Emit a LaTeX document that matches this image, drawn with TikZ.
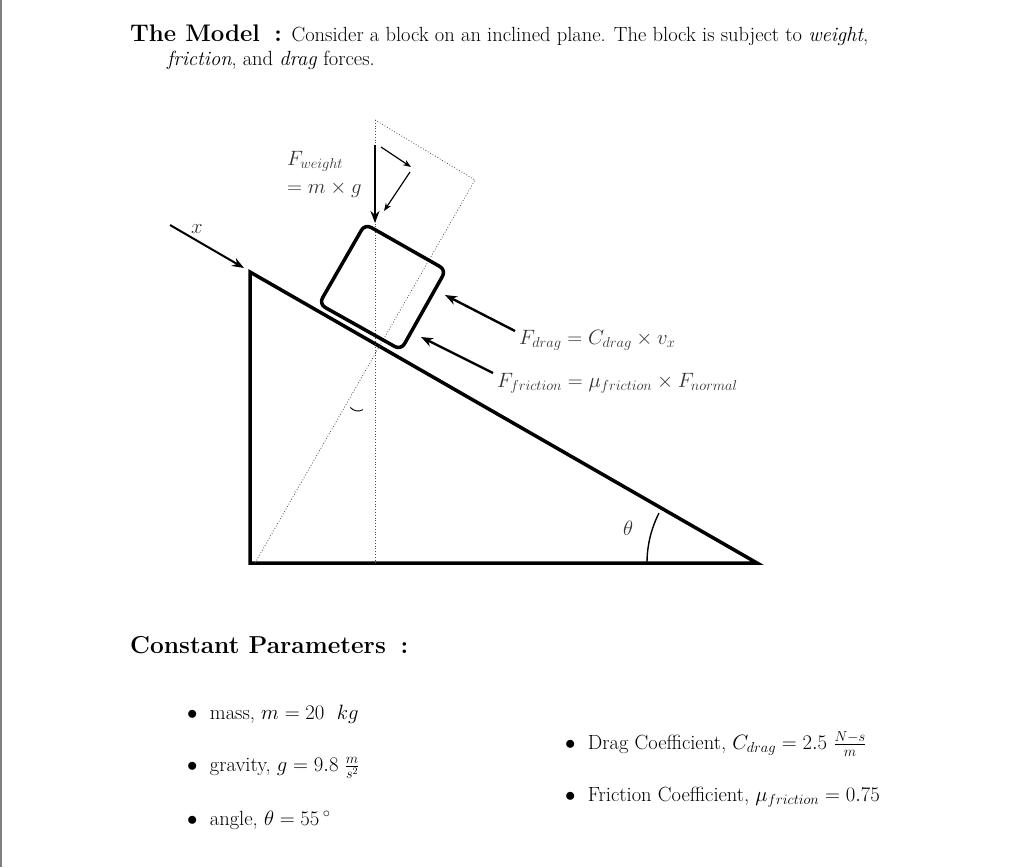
\documentclass[tikz,border=0pt]{standalone}
\usepackage{amsmath}
\usetikzlibrary{arrows.meta}
\begin{document}
\begin{tikzpicture}[x=1pt,y=-1pt,
  txt/.style={font=\fontsize{20.5}{24}\selectfont,anchor=west,inner sep=0pt},
  lbl/.style={font=\fontsize{21}{24}\selectfont,text=black!80,anchor=west,inner sep=0pt},
  thick line/.style={line width=3.5pt},
  dots/.style={dotted,line width=0.8pt,black!70},
  force/.style={line width=2.4pt,-{Stealth[length=12pt,width=9pt]}}]
\useasboundingbox (0,0) rectangle (1024,867);
\draw[black!50,line width=1.5pt] (0.75,0) -- (0.75,867);
% header
\node[txt] (title) at (130,35) {\fontsize{24}{26}\selectfont\textbf{The Model}\ \ \textbf{:} \fontsize{20.5}{24}\selectfont Consider a block on an inclined plane. The block is subject to \textit{weight},};
\node[txt] (title2) at (167,60) {\textit{friction}, and \textit{drag} forces.};
% geometry
\coordinate (A) at (250,272);
\coordinate (B) at (250,563);
\coordinate (C) at (757,563);
\draw[thick line,line join=miter] (A) -- (B) -- (C) -- cycle;
\coordinate (V0) at (375,120);
\coordinate (V1) at (375,563);
\coordinate (R1) at (475,180);
\coordinate (R2) at (255,563);
\draw[dots] (V0) -- (V1);
\draw[dots] (V0) -- (R1) -- (R2);
% block
\draw[line width=3.5pt,rounded corners=7pt] (365,224) -- (446,270) -- (401,350) -- (319,304) -- cycle;
% weight
\coordinate (W0) at (375,145);
\coordinate (W1) at (375,223);
\draw[force] (W0) -- (W1);
\coordinate (c1) at (381,147); \coordinate (c2) at (411,167);
\draw[line width=1.2pt,-{Stealth[length=8pt,width=6pt]}] (c1) -- (c2);
\coordinate (c3) at (410,172); \coordinate (c4) at (384,211);
\draw[line width=1.2pt,-{Stealth[length=8pt,width=6pt]}] (c3) -- (c4);
\node[lbl] (fw) at (287,161) {$F_{weight}$};
\node[lbl] (fw2) at (287,189) {$= m \times g$};
% angle arc near vertical
\draw[line width=0.9pt] (358,401) ++(140:10) arc[start angle=140,end angle=60,radius=10];
% x
\coordinate (X0) at (170,225); \coordinate (X1) at (244,268);
\draw[force,line width=2pt] (X0) -- (X1);
\node[lbl] (xl) at (191,229) {$x$};
% drag and friction
\coordinate (D0) at (515,331); \coordinate (D1) at (445,295);
\draw[force] (D0) -- (D1);
\coordinate (F0) at (493,373); \coordinate (F1) at (421,337);
\draw[force] (F0) -- (F1);
\node[lbl] (fd) at (519,340) {$F_{drag} = C_{drag} \times v_x$};
\node[lbl] (ff) at (497,383) {$F_{friction} = \mu_{friction} \times F_{normal}$};
% theta
\draw[line width=1.4pt] (647,563) arc[start angle=180,end angle=207,radius=110];
\node[lbl] (th) at (623,528) {$\theta$};
% parameters
\node[txt] (cp) at (130,645) {\fontsize{24.5}{26}\selectfont\textbf{Constant Parameters}\ \ \textbf{:}};
\node[txt] (b1) at (187,714) {$\bullet$\ \ mass, $m = 20\ \ kg$};
\node[txt] (b2) at (187,768) {$\bullet$\ \ gravity, $g = 9.8\ \frac{m}{s^2}$};
\node[txt] (b3) at (187,820) {$\bullet$\ \ angle, $\theta = 55\,^\circ$};
\node[txt] (b4) at (565,744) {$\bullet$\ \ Drag Coefficient, $C_{drag} = 2.5\ \frac{N-s}{m}$};
\node[txt] (b5) at (565,797) {$\bullet$\ \ Friction Coefficient, $\mu_{friction} = 0.75$};
\end{tikzpicture}
\end{document}
